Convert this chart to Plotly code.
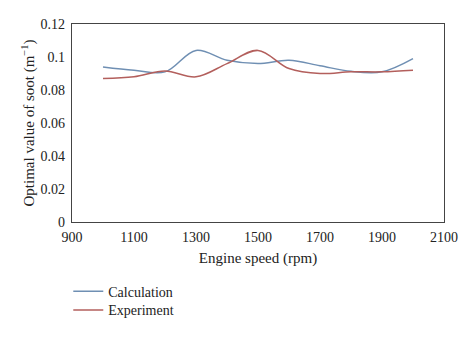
import plotly.graph_objects as go

speed = [1000, 1100, 1200, 1300, 1400, 1500, 1600, 1700, 1800, 1900, 2000]
calculation = [0.094, 0.092, 0.091, 0.104, 0.098, 0.096, 0.098, 0.0947, 0.0913, 0.091, 0.099]
experiment = [0.087, 0.088, 0.0915, 0.088, 0.096, 0.104, 0.093, 0.090, 0.091, 0.091, 0.092]

x_ticks = [900, 1100, 1300, 1500, 1700, 1900, 2100]
y_ticks = [0, 0.02, 0.04, 0.06, 0.08, 0.1, 0.12]
y_labels = ["0", "0.02", "0.04", "0.06", "0.08", "0.1", "0.12"]

font = "Liberation Serif, Times New Roman, serif"

fig = go.Figure()
fig.add_trace(go.Scatter(x=speed, y=calculation, mode="lines", name="Calculation", legend="legend",
                         line=dict(color="#6f8fb3", width=1.5, shape="spline", smoothing=1)))
fig.add_trace(go.Scatter(x=speed, y=experiment, mode="lines", name="Experiment", legend="legend2",
                         line=dict(color="#b35f5c", width=1.5, shape="spline", smoothing=1)))

leg_common = dict(xanchor="left", yanchor="middle", font=dict(family=font, size=14, color="#222"),
                  bgcolor="rgba(0,0,0,0)", itemwidth=30)

fig.update_layout(
    width=474, height=338,
    margin=dict(l=72, r=30, t=24, b=112),
    paper_bgcolor="white", plot_bgcolor="white",
    font=dict(family=font, size=14, color="#222"),
    showlegend=True,
    legend=dict(x=-0.01, y=-0.352, **leg_common),
    legend2=dict(x=-0.01, y=-0.446, **leg_common),
)
fig.update_xaxes(range=[900, 2100], tickvals=x_ticks, ticks="outside", ticklen=2, tickcolor="rgba(0,0,0,0)",
                 showgrid=False, zeroline=False,
                 showline=True, linecolor="#444", linewidth=1.2, mirror=True,
                 tickfont=dict(family=font, size=14, color="#222"),
                 title=dict(text="Engine speed (rpm)", font=dict(family=font, size=15, color="#222"), standoff=8))
fig.update_yaxes(range=[0, 0.12], tickvals=y_ticks, ticktext=y_labels, ticks="outside", ticklen=3,
                 tickcolor="rgba(0,0,0,0)", showgrid=False, zeroline=False,
                 showline=True, linecolor="#444", linewidth=1.2, mirror=True,
                 tickfont=dict(family=font, size=14, color="#222"),
                 title=dict(text="Optimal value of soot (m<sup>−1</sup>)", font=dict(family=font, size=15, color="#222"), standoff=2))

fig.write_html("out.html")
